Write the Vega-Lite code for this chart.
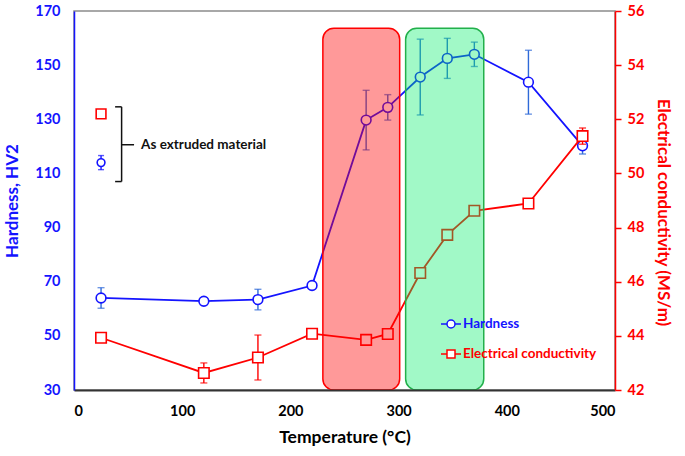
{
  "$schema": "https://vega.github.io/schema/vega-lite/v6.json",
  "description": "Hardness and electrical conductivity against annealing temperature.",
  "width": 541,
  "height": 379,
  "autosize": {"type": "none"},
  "padding": {"left": 74, "top": 11, "right": 70, "bottom": 66},
  "config": {
    "font": "Lato",
    "view": {"stroke": "#8c8c8c", "strokeWidth": 1.5}
  },
  "datasets": {
    "main": [
      {"t": 25, "h": 64.0, "he": 3.8, "c": 43.93, "ce": null},
      {"t": 120, "h": 62.8, "he": null, "c": 42.63, "ce": 0.37},
      {"t": 170, "h": 63.4, "he": 3.8, "c": 43.2, "ce": 0.83},
      {"t": 220, "h": 68.6, "he": null, "c": 44.08, "ce": null},
      {"t": 270, "h": 129.7, "he": 11, "c": 43.85, "ce": null},
      {"t": 290, "h": 134.4, "he": 4.7, "c": 44.07, "ce": null},
      {"t": 320, "h": 145.6, "he": 14, "c": 46.32, "ce": null},
      {"t": 345, "h": 152.5, "he": 7.4, "c": 47.73, "ce": null},
      {"t": 370, "h": 154.0, "he": 4.5, "c": 48.62, "ce": null},
      {"t": 420, "h": 143.7, "he": 11.8, "c": 48.89, "ce": null},
      {"t": 470, "h": 120.2, "he": 3, "c": 51.38, "ce": 0.3}
    ],
    "extruded": [{"t": 25, "h": 114, "he": 2.6, "c": 52.2}],
    "bracket": [
      {"x": 44, "x2": 44, "y": 107, "y2": 134.6},
      {"x": 38, "x2": 44, "y": 134.6, "y2": 134.6},
      {"x": 38, "x2": 44, "y": 107, "y2": 107},
      {"x": 44, "x2": 55.5, "y": 120.6, "y2": 120.6}
    ],
    "label": [{"x": 62, "y": 120.6, "text": "As extruded material"}],
    "redzone": [{"x": 230, "x2": 301, "y": 55.36, "y2": 42}],
    "greenzone": [{"x": 306.5, "x2": 378.7, "y": 55.36, "y2": 42}]
  },
  "layer": [
    {
      "layer": [
        {
          "data": {"name": "main"},
          "mark": {"type": "line", "color": "#1414ff", "strokeWidth": 1.8},
          "encoding": {
            "x": {
              "field": "t",
              "type": "quantitative",
              "title": "Temperature (°C)",
              "scale": {"domain": [0, 500], "nice": false},
              "axis": {
                "values": [0, 100, 200, 300, 400, 500],
                "titleFontSize": 17.5,
                "titleFontWeight": "bold",
                "titleColor": "black",
                "titlePadding": 11,
                "labelFontSize": 14.5,
                "labelFontWeight": "bold",
                "labelColor": "black",
                "labelPadding": 14,
                "ticks": false,
                "grid": false,
                "domainColor": "#333333",
                "domainWidth": 1.8,
                "zindex": 1
              }
            },
            "y": {
              "field": "h",
              "type": "quantitative",
              "title": "Hardness, HV2",
              "scale": {"domain": [30, 170], "nice": false, "zero": false},
              "axis": {
                "orient": "left",
                "values": [30, 50, 70, 90, 110, 130, 150, 170],
                "titleFontSize": 17,
                "titleFontWeight": "bold",
                "titleColor": "#1414ff",
                "titlePadding": 13,
                "labelFontSize": 14.5,
                "labelFontWeight": "bold",
                "labelColor": "#1414ff",
                "labelPadding": 14,
                "ticks": false,
                "grid": false,
                "domainColor": "#1414ff",
                "domainWidth": 1.5,
                "zindex": 1
              }
            },
            "color": {
              "datum": "Hardness",
              "scale": {
                "domain": ["Hardness", "Electrical conductivity"],
                "range": ["#1414ff", "#ff0000"]
              },
              "legend": {
                "orient": "none",
                "legendX": 366,
                "legendY": 302,
                "title": null,
                "labelFontSize": 13.5,
                "labelFontWeight": "bold",
                "labelOffset": 1,
                "symbolSize": 400,
                "rowPadding": 12,
                "encode": {
                  "symbols": {
                    "update": {
                      "shape": {"signal": "datum.value === 'Hardness' ? 'M-1,0H-0.4M0.4,0H1M0.4,0A0.4,0.4,0,1,1,-0.4,0A0.4,0.4,0,1,1,0.4,0' : 'M-1,0H-0.4M0.4,0H1M-0.4,-0.4H0.4V0.4H-0.4Z'"},
                      "fill": {"value": "white"},
                      "stroke": {"signal": "datum.value === 'Hardness' ? '#1e6ee0' : '#a0581e'"},
                      "strokeWidth": {"value": 1.5}
                    }
                  },
                  "labels": {
                    "update": {
                      "fill": {"signal": "datum.value === 'Hardness' ? '#1414ff' : '#ff0000'"}
                    }
                  }
                }
              }
            }
          }
        },
        {
          "data": {"name": "main"},
          "transform": [{"filter": "datum.he > 0"}],
          "mark": {"type": "errorbar", "color": "#2f6ad8", "thickness": 1.4, "ticks": {"size": 7}},
          "encoding": {
            "x": {"field": "t", "type": "quantitative", "title": "Temperature (°C)"},
            "y": {"field": "h", "type": "quantitative", "title": "Hardness, HV2"},
            "yError": {"field": "he"}
          }
        },
        {
          "data": {"name": "main"},
          "mark": {"type": "point", "shape": "circle", "filled": false, "fill": "white", "fillOpacity": 1, "size": 95, "strokeWidth": 1.6, "opacity": 1},
          "encoding": {
            "x": {"field": "t", "type": "quantitative", "title": "Temperature (°C)"},
            "y": {"field": "h", "type": "quantitative", "title": "Hardness, HV2"},
            "color": {"datum": "Hardness"}
          }
        },
        {
          "data": {"name": "extruded"},
          "mark": {"type": "errorbar", "color": "#1414ff", "thickness": 1.4, "ticks": {"size": 6}},
          "encoding": {
            "x": {"field": "t", "type": "quantitative", "title": "Temperature (°C)"},
            "y": {"field": "h", "type": "quantitative", "title": "Hardness, HV2"},
            "yError": {"field": "he"}
          }
        },
        {
          "data": {"name": "extruded"},
          "mark": {"type": "point", "shape": "circle", "filled": false, "fill": "white", "fillOpacity": 1, "size": 60, "strokeWidth": 1.6, "opacity": 1, "color": "#1414ff"},
          "encoding": {
            "x": {"field": "t", "type": "quantitative", "title": "Temperature (°C)"},
            "y": {"field": "h", "type": "quantitative", "title": "Hardness, HV2"}
          }
        },
        {
          "data": {"name": "bracket"},
          "mark": {"type": "rule", "color": "#111111", "strokeWidth": 1.5},
          "encoding": {
            "x": {"field": "x", "type": "quantitative", "title": "Temperature (°C)"},
            "x2": {"field": "x2"},
            "y": {"field": "y", "type": "quantitative", "title": "Hardness, HV2"},
            "y2": {"field": "y2"}
          }
        },
        {
          "data": {"name": "label"},
          "mark": {"type": "text", "align": "left", "baseline": "middle", "fontSize": 13.5, "fontWeight": "bold", "color": "#111111"},
          "encoding": {
            "x": {"field": "x", "type": "quantitative", "title": "Temperature (°C)"},
            "y": {"field": "y", "type": "quantitative", "title": "Hardness, HV2"},
            "text": {"field": "text"}
          }
        }
      ]
    },
    {
      "layer": [
        {
          "data": {"name": "main"},
          "mark": {"type": "line", "color": "#ff0000", "strokeWidth": 1.8},
          "encoding": {
            "x": {"field": "t", "type": "quantitative", "title": "Temperature (°C)"},
            "y": {
              "field": "c",
              "type": "quantitative",
              "title": "Electrical conductivity (MS/m)",
              "scale": {"domain": [42, 56], "nice": false, "zero": false},
              "axis": {
                "orient": "right",
                "values": [42, 44, 46, 48, 50, 52, 54, 56],
                "titleFontSize": 17,
                "titleFontWeight": "bold",
                "titleColor": "#ff0000",
                "titlePadding": 10,
                "titleY": 201,
                "labelFontSize": 14.5,
                "labelFontWeight": "bold",
                "labelColor": "#ff0000",
                "labelPadding": 6,
                "ticks": true,
                "tickSize": 6,
                "tickColor": "#ff0000",
                "tickWidth": 1.5,
                "grid": false,
                "domainColor": "#ff0000",
                "domainWidth": 1.5,
                "zindex": 1
              }
            },
            "color": {"datum": "Electrical conductivity"}
          }
        },
        {
          "data": {"name": "main"},
          "transform": [{"filter": "datum.ce > 0"}],
          "mark": {"type": "errorbar", "color": "#ff0000", "thickness": 1.4, "ticks": {"size": 7}},
          "encoding": {
            "x": {"field": "t", "type": "quantitative", "title": "Temperature (°C)"},
            "y": {"field": "c", "type": "quantitative", "title": "Electrical conductivity (MS/m)"},
            "yError": {"field": "ce"}
          }
        },
        {
          "data": {"name": "main"},
          "mark": {"type": "point", "shape": "square", "filled": false, "fill": "white", "fillOpacity": 1, "size": 110, "strokeWidth": 1.6, "opacity": 1},
          "encoding": {
            "x": {"field": "t", "type": "quantitative", "title": "Temperature (°C)"},
            "y": {"field": "c", "type": "quantitative", "title": "Electrical conductivity (MS/m)"},
            "color": {"datum": "Electrical conductivity"}
          }
        },
        {
          "data": {"name": "extruded"},
          "mark": {"type": "point", "shape": "square", "filled": false, "fill": "white", "fillOpacity": 1, "size": 95, "strokeWidth": 1.6, "opacity": 1, "color": "#ff0000"},
          "encoding": {
            "x": {"field": "t", "type": "quantitative", "title": "Temperature (°C)"},
            "y": {"field": "c", "type": "quantitative", "title": "Electrical conductivity (MS/m)"}
          }
        },
        {
          "data": {"name": "redzone"},
          "mark": {"type": "rect", "fill": "#ff0000", "fillOpacity": 0.4, "stroke": "#ff0000", "strokeWidth": 1.5, "cornerRadius": 11},
          "encoding": {
            "x": {"field": "x", "type": "quantitative", "title": "Temperature (°C)"},
            "x2": {"field": "x2"},
            "y": {"field": "y", "type": "quantitative", "title": "Electrical conductivity (MS/m)"},
            "y2": {"field": "y2"}
          }
        },
        {
          "data": {"name": "greenzone"},
          "mark": {"type": "rect", "fill": "#00ee66", "fillOpacity": 0.37, "stroke": "#22b04b", "strokeWidth": 1.5, "cornerRadius": 11},
          "encoding": {
            "x": {"field": "x", "type": "quantitative", "title": "Temperature (°C)"},
            "x2": {"field": "x2"},
            "y": {"field": "y", "type": "quantitative", "title": "Electrical conductivity (MS/m)"},
            "y2": {"field": "y2"}
          }
        }
      ]
    }
  ],
  "resolve": {"scale": {"y": "independent"}}
}
